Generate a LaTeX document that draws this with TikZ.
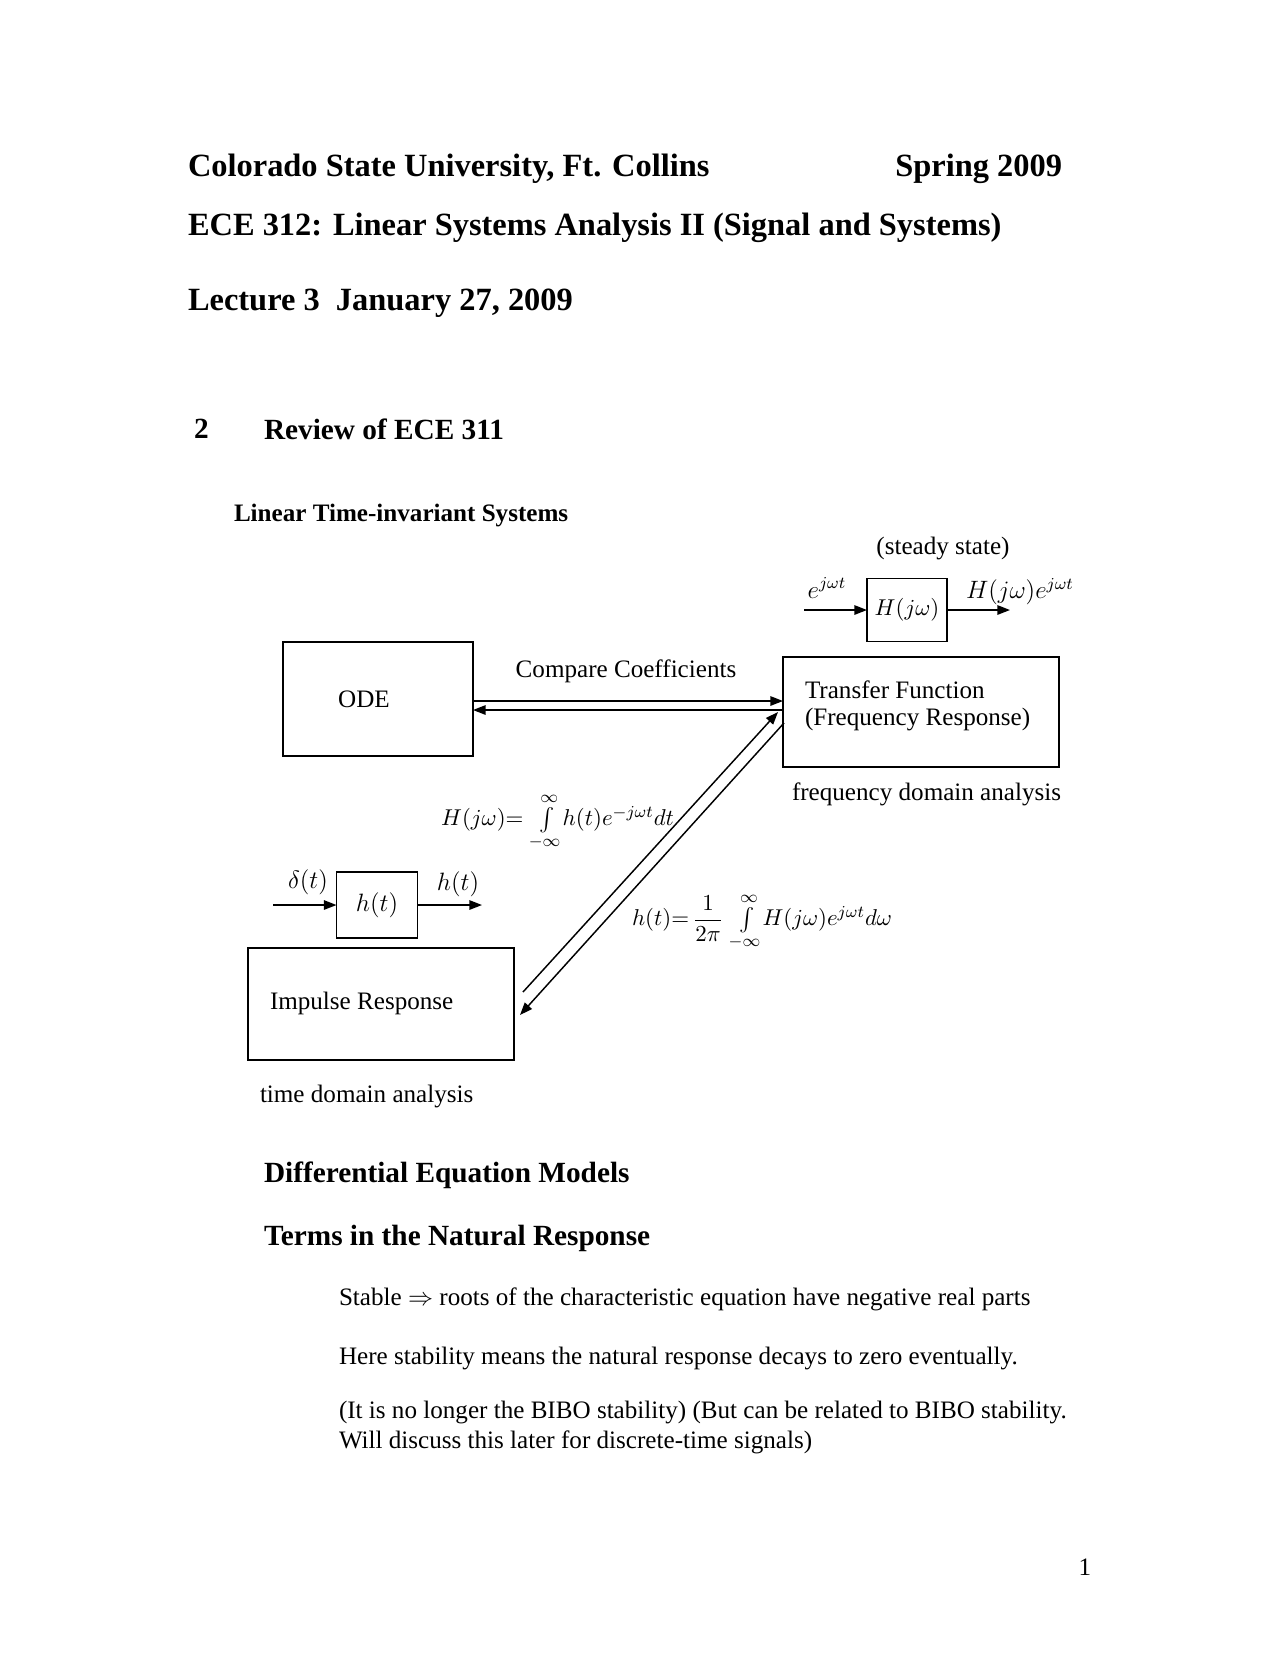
\documentclass[tikz,border=0pt]{standalone}
\usepackage{amsmath}
\usepackage{fontspec}
\setmainfont{Liberation Serif}
\usetikzlibrary{arrows.meta}
\begin{document}
\begin{tikzpicture}[x=0.478pt,y=-0.478pt,
  every node/.style={inner sep=0pt, outer sep=0pt},
  box/.style={draw, line width=0.8pt},
  conn/.style={line width=0.7pt, -{Triangle[length=6pt,width=4.5pt]}},
  head/.style={font=\fontsize{15.5}{18}\selectfont\bfseries, anchor=west},
  body/.style={font=\fontsize{12}{14.4}\selectfont},
  formula/.style={font=\fontsize{11}{13}\selectfont},
  gara/.style={font=\fontsize{14}{17}\selectfont\bfseries, anchor=west}]
\useasboundingbox (0,0) rectangle (1280,1656);
\fill[white] (0,0) rectangle (1280,1656);

% header
\node[head] (h1) at (188,169) {Colorado State University, Ft. Collins};
\node[head, anchor=east] (h2) at (1062,169) {Spring 2009};
\node[head] (h3) at (188,228) {ECE 312: Linear Systems Analysis II (Signal and Systems)};
\node[head] (h4) at (188,303) {Lecture 3\hspace{0.5em}January 27, 2009};
\node[gara] (sec) at (194,429) {2};
\node[gara] (sect) at (264,429) {Review of ECE 311};
\node[body, font=\fontsize{12}{14.4}\selectfont\bfseries, anchor=west] (lti) at (234,515) {Linear Time-invariant Systems};

% steady state block
\node[body] (ss) at (943,548) {(steady state)};
\node[box, minimum width=80*0.478pt, minimum height=63*0.478pt] (hb) at (907,610) {};
\node[formula] at (hb.center) {$H(j\omega)$};
\coordinate (hin) at (804,610);
\coordinate (hout) at (1010,610);
\draw[conn] (hin) -- (hb.west);
\draw[conn] (hb.east) -- (hout);
\node[body] (ein) at (827,588) {$e^{j\omega t}$};
\node[body] (eout) at (1020,592) {$H(j\omega)e^{j\omega t}$};

% ODE box
\node[box, minimum width=190*0.478pt, minimum height=114*0.478pt] (ode) at (378,699) {};
\node[body] (odet) at (364,699) {ODE};

% Transfer function box
\node[box, minimum width=276*0.478pt, minimum height=110*0.478pt] (tf) at (921,712) {};
\node[body, anchor=west] (tf1) at (805,690) {Transfer Function};
\node[body, anchor=west] (tf2) at (805,719) {(Frequency Response)};
\node[body, anchor=west] (fda) at (792,794) {frequency domain analysis};

% compare coefficients arrows
\node[body] (cc) at (626,671) {Compare Coefficients};
\draw[conn] (ode.east |- 0,701) -- (tf.west |- 0,701);
\draw[conn] (tf.west |- 0,710) -- (ode.east |- 0,710);

% Fourier formula
\node[formula, anchor=east] (ft) at (674,822) {$H(j\omega){=}\,\int\limits_{-\infty}^{\infty}\! h(t)e^{-j\omega t}dt$};

% impulse block
\node[box, minimum width=81*0.478pt, minimum height=66*0.478pt] (htb) at (377,905) {};
\node[body] at (htb.center) {$h(t)$};
\coordinate (din) at (273,905);
\coordinate (dout) at (482,905);
\draw[conn] (din) -- (htb.west);
\draw[conn] (htb.east) -- (dout);
\node[body] (dl) at (308,882) {$\delta(t)$};
\node[body] (hl) at (458,884) {$h(t)$};

% Impulse response box
\node[box, minimum width=266*0.478pt, minimum height=112*0.478pt] (imp) at (381,1004) {};
\node[body, anchor=west] (impt) at (270,1003) {Impulse Response};
\node[body, anchor=west] (tda) at (260,1096) {time domain analysis};

% diagonal arrows
\draw[conn] ([shift={(9,-12)}]imp.east) -- ([shift={(-5,0)}]tf.west);
\draw[conn] ([shift={(1,11)}]tf.west) -- ([shift={(6,11)}]imp.east);

% inverse formula
\node[formula, anchor=west] (ift) at (632,922) {$h(t){=}\,\dfrac{1}{2\pi}\,\int\limits_{-\infty}^{\infty}\! H(j\omega)e^{j\omega t}d\omega$};

% lower text
\node[gara] (dem) at (264,1175) {Differential Equation Models};
\node[gara] (tnr) at (264,1238) {Terms in the Natural Response};
\node[body, anchor=west] (p1) at (339,1299) {Stable $\Rightarrow$ roots of the characteristic equation have negative real parts};
\node[body, anchor=west] (p2) at (339,1358) {Here stability means the natural response decays to zero eventually.};
\node[body, anchor=north west, align=left] (p3) at (339,1401) {(It is no longer the BIBO stability) (But can be related to BIBO stability.\\Will discuss this later for discrete-time signals)};
\node[body] (pg) at (1085,1567) {1};
\end{tikzpicture}
\end{document}
